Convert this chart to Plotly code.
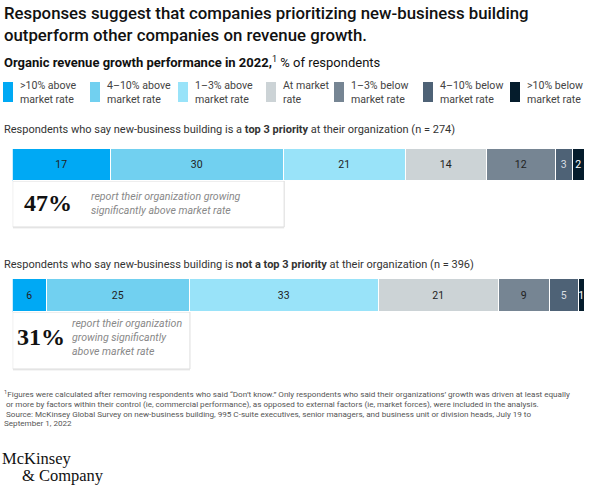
import plotly.graph_objects as go

W, H = 596, 485

# legend categories, left to right
categories = [">10% above market rate", "4–10% above market rate", "1–3% above market rate",
              "At market rate", "1–3% below market rate", "4–10% below market rate",
              ">10% below market rate"]
legend_labels = [">10% above<br>market rate", "4–10% above<br>market rate", "1–3% above<br>market rate",
                 "At market<br>rate", "1–3% below<br>market rate", "4–10% below<br>market rate",
                 ">10% below<br>market rate"]
colors = ["#00A9F4", "#71D0F0", "#99E3F9", "#CCD3D6", "#768593", "#4E6276", "#051C2C"]
text_colors = ["#222222", "#222222", "#222222", "#222222", "#222222", "#D8DEE2", "#FFFFFF"]

# % of respondents
top3_values = [17, 30, 21, 14, 12, 3, 2]        # n = 274
not_top3_values = [6, 25, 33, 21, 9, 5, 1]      # n = 396

footnote_lines = [
    "<sup>1</sup>Figures were calculated after removing respondents who said “Don’t know.” Only respondents "
    "who said their organizations’ growth was driven at least equally",
    " or more by factors within their control (ie, commercial performance), as opposed to external factors "
    "(ie, market forces), were included in the analysis.",
    " Source: McKinsey Global Survey on new-business building, 995 C-suite executives, senior managers, "
    "and business unit or division heads, July 19 to",
    "September 1, 2022",
]


def px_x(x):
    return x / W


def px_y(y):
    return 1 - y / H


FONT = "Roboto"
fig = go.Figure()

groups = [(top3_values, "x", "y"), (not_top3_values, "x2", "y2")]
for values, xa, ya in groups:
    for cat, v, c, tc in zip(categories, values, colors, text_colors):
        fig.add_trace(go.Bar(
            x=[v], y=[0], orientation="h", name=cat,
            marker=dict(color=c, line=dict(color="white", width=1)),
            text=[str(v)], textposition="inside", insidetextanchor="middle",
            constraintext="none", textfont=dict(color=tc, size=10.5, family=FONT),
            xaxis=xa, yaxis=ya, showlegend=False, hoverinfo="skip",
        ))

bar_x = [px_x(12.7), px_x(584.5)]
fig.update_layout(
    width=W, height=H, margin=dict(l=0, r=0, t=0, b=0),
    paper_bgcolor="white", plot_bgcolor="white",
    barmode="stack", bargap=0,
    font=dict(family=FONT, color="#222222"),
    xaxis=dict(domain=bar_x, range=[0, sum(top3_values)], visible=False, fixedrange=True),
    yaxis=dict(domain=[px_y(181), px_y(149)], range=[-0.5, 0.5], visible=False, fixedrange=True),
    xaxis2=dict(domain=bar_x, range=[0, sum(not_top3_values)], visible=False, anchor="y2", fixedrange=True),
    yaxis2=dict(domain=[px_y(312), px_y(279)], range=[-0.5, 0.5], visible=False, anchor="x2", fixedrange=True),
)

shapes = []
ann = []

# title and subtitle
ann.append(dict(x=px_x(2), y=px_y(13), xanchor="left", yanchor="middle", align="left",
                text="Responses suggest that companies prioritizing new-business building",
                font=dict(size=16.8, color="#111111", family=FONT, weight=500)))
ann.append(dict(x=px_x(2), y=px_y(35), xanchor="left", yanchor="middle", align="left",
                text="outperform other companies on revenue growth.",
                font=dict(size=16.8, color="#111111", family=FONT, weight=500)))
ann.append(dict(x=px_x(2), y=px_y(62), xanchor="left", yanchor="middle", align="left",
                text="<b>Organic revenue growth performance in 2022,</b><sup>1</sup> % of respondents",
                font=dict(size=13, color="#111111", family=FONT)))

# legend swatches
legend_x = [3, 90, 178, 266, 334, 423, 510]
for lx, lab, c in zip(legend_x, legend_labels, colors):
    shapes.append(dict(type="rect", xref="paper", yref="paper",
                       x0=px_x(lx), x1=px_x(lx + 10), y0=px_y(102), y1=px_y(82),
                       fillcolor=c, line=dict(width=0)))
    ann.append(dict(x=px_x(lx + 15), y=px_y(92.5), xanchor="left", yanchor="middle", align="left",
                    text=lab, font=dict(size=10.6, color="#444444", family=FONT)))

# group labels
ann.append(dict(x=px_x(2), y=px_y(130), xanchor="left", yanchor="middle", align="left",
                text="Respondents who say new-business building is a <b>top 3 priority</b> "
                     "at their organization (n = 274)",
                font=dict(size=11, color="#333333", family=FONT)))
ann.append(dict(x=px_x(2), y=px_y(264), xanchor="left", yanchor="middle", align="left",
                text="Respondents who say new-business building is <b>not a top 3 priority</b> "
                     "at their organization (n = 396)",
                font=dict(size=11, color="#333333", family=FONT)))

# callout boxes: width = share growing significantly above market rate
callouts = [
    (top3_values, "x", 181, 227, 48, 203, 89,
     "report their organization growing<br>significantly above market rate"),
    (not_top3_values, "x2", 312, 369, 41, 337, 70,
     "report their organization<br>growing significantly<br>above market rate"),
]
for values, xa, y_top, y_bot, num_cx, cy, tx, note in callouts:
    share = values[0] + values[1]
    shapes.append(dict(type="rect", xref=xa, yref="paper", x0=0, x1=share,
                       y0=px_y(y_bot + 1.5), y1=px_y(y_top), fillcolor="#EBEBEB",
                       line=dict(width=0), layer="below"))
    shapes.append(dict(type="rect", xref=xa, yref="paper", x0=0, x1=share,
                       y0=px_y(y_bot), y1=px_y(y_top), fillcolor="white",
                       line=dict(color="#DDDDDD", width=1), layer="below"))
    ann.append(dict(x=px_x(num_cx), y=px_y(cy), xanchor="center", yanchor="middle",
                    text=f"<b>{share}%</b>",
                    font=dict(size=24, color="#111111", family="Liberation Serif")))
    ann.append(dict(x=px_x(tx), y=px_y(cy), xanchor="left", yanchor="middle", align="left",
                    text=f"<i>{note}</i>", font=dict(size=10.6, color="#888888", family=FONT)))

# footnote, one annotation per line for tighter spacing
for i, line in enumerate(footnote_lines):
    ann.append(dict(x=px_x(2), y=px_y(394 + 9.8 * i), xanchor="left", yanchor="middle", align="left",
                    text=line, font=dict(size=8.1, color="#555555", family=FONT)))

# logo
ann.append(dict(x=px_x(0), y=px_y(458), xanchor="left", yanchor="middle", align="left",
                text="McKinsey", font=dict(size=16.5, color="#111111", family="Liberation Serif")))
ann.append(dict(x=px_x(19.5), y=px_y(475), xanchor="left", yanchor="middle", align="left",
                text="&amp; Company", font=dict(size=16.5, color="#111111", family="Liberation Serif")))

for a in ann:
    a.setdefault("showarrow", False)
    a.setdefault("xref", "paper")
    a.setdefault("yref", "paper")

fig.update_layout(shapes=shapes, annotations=ann)
fig.write_html("out.html", config={"displayModeBar": False},
               post_script="document.body.style.margin='0px';")
